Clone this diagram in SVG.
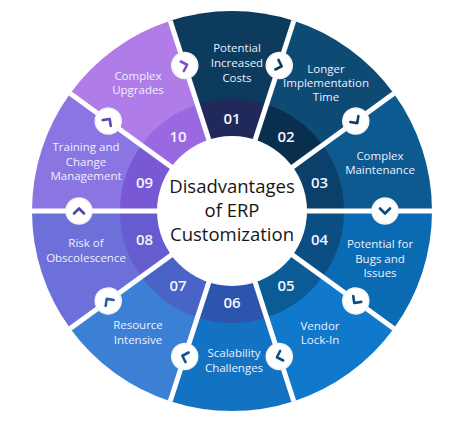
<svg xmlns="http://www.w3.org/2000/svg" width="474" height="422" viewBox="0 0 474 422">
<style>
.lbl{font-family:"Open Sans","Noto Sans",sans-serif;font-size:11.5px;fill:#eef0ff;text-anchor:middle}
.num{font-family:"Open Sans","Noto Sans",sans-serif;font-size:15px;font-weight:600;fill:#f4f4ff;text-anchor:middle}
.ctr{font-family:"Open Sans","Noto Sans",sans-serif;font-size:18.5px;fill:#161616;text-anchor:middle}
.div{stroke:#ffffff;stroke-width:5;fill:none}
.ico{fill:#ffffff;stroke:#f2f2f8;stroke-width:1.5}
.chev{fill:none;stroke-width:2.6;stroke-linecap:round;stroke-linejoin:round}
</style>
<defs>
<path id="chev" d="M-5,-2.5 L0,2.5 L5,-2.5"/>
</defs>
<rect width="474" height="422" fill="#ffffff"/>

<g id="node-01">
<path d="M232,211 L170.20,20.79 A200,200 0 0,1 293.80,20.79 Z" fill="#0c3b5e"/>
<path d="M232,211 L197.39,104.48 A112,112 0 0,1 266.61,104.48 Z" fill="#20295a"/>
<text class="num" x="232" y="124">01</text>
<text class="lbl" x="237" y="52">Potential</text>
<text class="lbl" x="237" y="67">Increased</text>
<text class="lbl" x="237" y="82">Costs</text>
</g>
<g id="node-02">
<path d="M232,211 L293.80,20.79 A200,200 0 0,1 393.80,93.44 Z" fill="#0d4a74"/>
<path d="M232,211 L266.61,104.48 A112,112 0 0,1 322.61,145.17 Z" fill="#082f4d"/>
<text class="num" x="286" y="141.5">02</text>
<text class="lbl" x="326" y="73">Longer</text>
<text class="lbl" x="326" y="87">Implementation</text>
<text class="lbl" x="326" y="101">Time</text>
</g>
<g id="node-03">
<path d="M232,211 L393.80,93.44 A200,200 0 0,1 432,211 Z" fill="#0d5a90"/>
<path d="M232,211 L322.61,145.17 A112,112 0 0,1 344,211 Z" fill="#0a406a"/>
<text class="num" x="319.5" y="187.5">03</text>
<text class="lbl" x="380" y="160">Complex</text>
<text class="lbl" x="380" y="174">Maintenance</text>
</g>
<g id="node-04">
<path d="M232,211 L432,211 A200,200 0 0,1 393.80,328.56 Z" fill="#0a6bb2"/>
<path d="M232,211 L344,211 A112,112 0 0,1 322.61,276.83 Z" fill="#0a4e83"/>
<text class="num" x="319.5" y="244.5">04</text>
<text class="lbl" x="380" y="248">Potential for</text>
<text class="lbl" x="380" y="262.5">Bugs and</text>
<text class="lbl" x="380" y="277">Issues</text>
</g>
<g id="node-05">
<path d="M232,211 L393.80,328.56 A200,200 0 0,1 293.80,401.21 Z" fill="#1079cb"/>
<path d="M232,211 L322.61,276.83 A112,112 0 0,1 266.61,317.52 Z" fill="#0b5c96"/>
<text class="num" x="286" y="290.5">05</text>
<text class="lbl" x="320" y="330">Vendor</text>
<text class="lbl" x="320" y="344">Lock-In</text>
</g>
<g id="node-06">
<path d="M232,211 L293.80,401.21 A200,200 0 0,1 170.20,401.21 Z" fill="#1472c2"/>
<path d="M232,211 L266.61,317.52 A112,112 0 0,1 197.39,317.52 Z" fill="#2d55ad"/>
<text class="num" x="232" y="308">06</text>
<text class="lbl" x="234" y="357">Scalability</text>
<text class="lbl" x="234" y="372">Challenges</text>
</g>
<g id="node-07">
<path d="M232,211 L170.20,401.21 A200,200 0 0,1 70.20,328.56 Z" fill="#3b80d4"/>
<path d="M232,211 L197.39,317.52 A112,112 0 0,1 141.39,276.83 Z" fill="#4a63c7"/>
<text class="num" x="178" y="290.5">07</text>
<text class="lbl" x="138" y="329">Resource</text>
<text class="lbl" x="138" y="344">Intensive</text>
</g>
<g id="node-08">
<path d="M232,211 L70.20,328.56 A200,200 0 0,1 32,211 Z" fill="#6c70d8"/>
<path d="M232,211 L141.39,276.83 A112,112 0 0,1 120,211 Z" fill="#665bcf"/>
<text class="num" x="144.5" y="244.5">08</text>
<text class="lbl" x="86" y="247">Risk of</text>
<text class="lbl" x="86" y="262">Obscolescence</text>
</g>
<g id="node-09">
<path d="M232,211 L32,211 A200,200 0 0,1 70.20,93.44 Z" fill="#8a75e2"/>
<path d="M232,211 L120,211 A112,112 0 0,1 141.39,145.17 Z" fill="#7958d5"/>
<text class="num" x="144.5" y="187.5">09</text>
<text class="lbl" x="86" y="151">Training and</text>
<text class="lbl" x="86" y="166">Change</text>
<text class="lbl" x="86" y="180">Management</text>
</g>
<g id="node-10">
<path d="M232,211 L70.20,93.44 A200,200 0 0,1 170.20,20.79 Z" fill="#b07ce8"/>
<path d="M232,211 L141.39,145.17 A112,112 0 0,1 197.39,104.48 Z" fill="#9a68e0"/>
<text class="num" x="178" y="141.5">10</text>
<text class="lbl" x="138" y="80">Complex</text>
<text class="lbl" x="138" y="94">Upgrades</text>
</g>

<g id="connectors">
<line class="div" x1="232" y1="211" x2="170.20" y2="20.79"/>
<line class="div" x1="232" y1="211" x2="293.80" y2="20.79"/>
<line class="div" x1="232" y1="211" x2="393.80" y2="93.44"/>
<line class="div" x1="232" y1="211" x2="432" y2="211"/>
<line class="div" x1="232" y1="211" x2="393.80" y2="328.56"/>
<line class="div" x1="232" y1="211" x2="293.80" y2="401.21"/>
<line class="div" x1="232" y1="211" x2="170.20" y2="401.21"/>
<line class="div" x1="232" y1="211" x2="70.20" y2="328.56"/>
<line class="div" x1="232" y1="211" x2="32" y2="211"/>
<line class="div" x1="232" y1="211" x2="70.20" y2="93.44"/>

<g transform="translate(184.72,65.49) rotate(252)"><circle class="ico" r="13"/><use href="#chev" class="chev" stroke="#7b4fc4"/></g>
<g transform="translate(279.28,65.49) rotate(-72)"><circle class="ico" r="13"/><use href="#chev" class="chev" stroke="#0c3b5e"/></g>
<g transform="translate(355.78,121.07) rotate(-36)"><circle class="ico" r="13"/><use href="#chev" class="chev" stroke="#0b3f66"/></g>
<g transform="translate(385,211) rotate(0)"><circle class="ico" r="13"/><use href="#chev" class="chev" stroke="#0b4a7c"/></g>
<g transform="translate(355.78,300.93) rotate(36)"><circle class="ico" r="13"/><use href="#chev" class="chev" stroke="#0a4e83"/></g>
<g transform="translate(279.28,356.51) rotate(72)"><circle class="ico" r="13"/><use href="#chev" class="chev" stroke="#0b4f8a"/></g>
<g transform="translate(184.72,356.51) rotate(108)"><circle class="ico" r="13"/><use href="#chev" class="chev" stroke="#16508f"/></g>
<g transform="translate(108.22,300.93) rotate(144)"><circle class="ico" r="13"/><use href="#chev" class="chev" stroke="#2a5aa8"/></g>
<g transform="translate(79,211) rotate(180)"><circle class="ico" r="13"/><use href="#chev" class="chev" stroke="#4b4aa8"/></g>
<g transform="translate(108.22,121.07) rotate(216)"><circle class="ico" r="13"/><use href="#chev" class="chev" stroke="#5e47b8"/></g>
</g>

<g id="center">
<circle cx="232" cy="211" r="75" fill="#ffffff"/>
<text class="ctr" x="232" y="193">Disadvantages</text>
<text class="ctr" x="232" y="217">of ERP</text>
<text class="ctr" x="232" y="241">Customization</text>
</g>
</svg>
